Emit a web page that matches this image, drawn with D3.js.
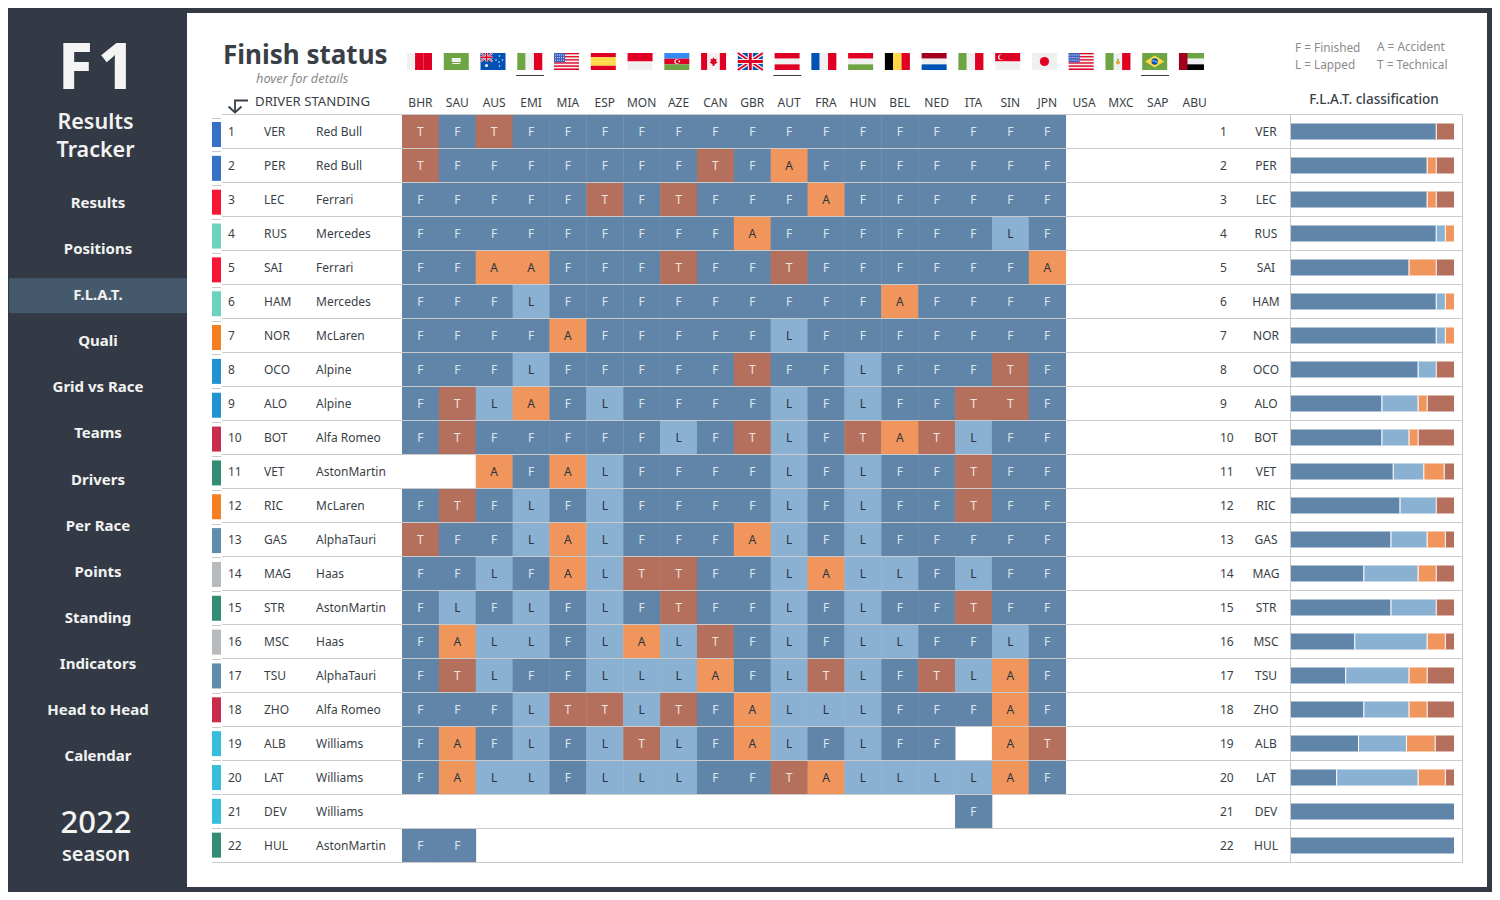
<!DOCTYPE html>
<html><head><meta charset="utf-8">
<script src="https://cdn.jsdelivr.net/npm/d3@7"></script>
<style>
html,body{margin:0;padding:0;background:#fff}
svg{display:block}
text{font-family:"Noto Sans","Open Sans",sans-serif}
</style></head><body>
<svg id="c" width="1500" height="900"></svg>
<script>
const races=["BHR","SAU","AUS","EMI","MIA","ESP","MON","AZE","CAN","GBR","AUT","FRA","HUN","BEL","NED","ITA","SIN","JPN","USA","MXC","SAP","ABU"];
const sprintRaces=["EMI","AUT","SAP"];
const drivers=["VER","PER","LEC","RUS","SAI","HAM","NOR","OCO","ALO","BOT","VET","RIC","GAS","MAG","STR","MSC","TSU","ZHO","ALB","LAT","DEV","HUL"];
const teams=["Red Bull","Red Bull","Ferrari","Mercedes","Ferrari","Mercedes","McLaren","Alpine","Alpine","Alfa Romeo","AstonMartin","McLaren","AlphaTauri","Haas","AstonMartin","Haas","AlphaTauri","Alfa Romeo","Williams","Williams","Williams","AstonMartin"];
// one letter per race, "-" = did not take part
const results=[
"TFTFFFFFFFFFFFFFFF",
"TFFFFFFFTFAFFFFFFF",
"FFFFFTFTFFFAFFFFFF",
"FFFFFFFFFAFFFFFFLF",
"FFAAFFFTFFTFFFFFFA",
"FFFLFFFFFFFFFAFFFF",
"FFFFAFFFFFLFFFFFFF",
"FFFLFFFFFTFFLFFFTF",
"FTLAFLFFFFLFLFFTTF",
"FTFFFFFLFTLFTATLFF",
"--AFALFFFFLFLFFTFF",
"FTFLFLFFFFLFLFFTFF",
"TFFLALFFFALFLFFFFF",
"FFLFALTTFFLALLFLFF",
"FLFLFLFTFFLFLFFTFF",
"FALLFLALTFLFLLFFLF",
"FTLFFLLLAFLTLFTLAF",
"FFFLTTLTFALLLFFFAF",
"FAFLFLTLFALFLFF-AT",
"FALLFLLLFFTALLLLAF",
"---------------F--",
"FF----------------"
];
const statuses=["F","L","A","T"];
const statusColors=["#6185a8","#8ab0d2","#f0965c","#b4705c"];
const statusText=["#dbe6ef","#2b3440","#2b3440","#f0e4dc"];
const teamNames=["Red Bull","Ferrari","Mercedes","McLaren","Alpine","Alfa Romeo","AstonMartin","AlphaTauri","Haas","Williams"];
const teamColors=["#3671c6","#f91536","#6cd3bf","#f58020","#2293d1","#c92d4b","#358c75","#5e8faa","#b6babd","#37bedd"];
const navItems=["Results","Positions","F.L.A.T.","Quali","Grid vs Race","Teams","Drivers","Per Race","Points","Standing","Indicators","Head to Head","Calendar"];
const activeNav="F.L.A.T.";
const legendLeft=["F = Finished","L = Lapped"];
const legendRight=["A = Accident","T = Technical"];

const INK="#3a3f47", DARK="#333a45", RULE="#cacaca";
const svg=d3.select("#c");

// frame
svg.append("rect").attr("x",8).attr("y",8).attr("width",1484).attr("height",884).attr("fill",DARK);
svg.append("rect").attr("x",187).attr("y",13).attr("width",1300).attr("height",874).attr("fill","#fff");

// sidebar
const side=svg.append("g").attr("text-anchor","middle");
side.append("text").attr("x",99).attr("y",89).attr("font-size",64).attr("font-weight",800).attr("letter-spacing",5).attr("fill","#f4f4f4").text("F1");
side.append("text").attr("x",95.5).attr("y",129).attr("font-size",21.5).attr("font-weight",600).attr("fill","#f2f2f2").text("Results");
side.append("text").attr("x",95.5).attr("y",157).attr("font-size",21.5).attr("font-weight",600).attr("fill","#f2f2f2").text("Tracker");
const navY=d3.scalePoint().domain(navItems).range([203,756]);
side.append("rect").attr("x",9).attr("y",navY(activeNav)-17).attr("width",178).attr("height",35).attr("fill","#44596b");
side.selectAll(".nav").data(navItems).join("text").attr("class","nav")
  .attr("x",98).attr("y",d=>navY(d)+5).attr("font-size",15).attr("font-weight",700).attr("fill","#f2f2f2").text(d=>d);
side.append("text").attr("x",96).attr("y",832.5).attr("font-size",31).attr("font-weight",500).attr("fill","#f4f4f4").text("2022");
side.append("text").attr("x",96).attr("y",861).attr("font-size",20).attr("font-weight",600).attr("fill","#f4f4f4").text("season");

// scales
const xCol=d3.scaleBand().domain(races).range([402,402+36.87*races.length]);
const xFlag=d3.scaleBand().domain(races).range([407,407+36.76*races.length]);
const yRow=d3.scaleBand().domain(drivers).range([114.5,862.5]);
const yChip=d3.scaleBand().domain(drivers).range([118,862.5]);
const color=d3.scaleOrdinal(statuses,statusColors);
const textCol=d3.scaleOrdinal(statuses,statusText);
const teamColor=d3.scaleOrdinal(teamNames,teamColors);
const rh=yRow.bandwidth();

// title
svg.append("text").attr("x",223).attr("y",64).attr("font-size",26).attr("font-weight",700).attr("fill",INK).text("Finish status");
svg.append("text").attr("x",256).attr("y",83).attr("font-size",12.8).attr("font-style","italic").attr("fill","#8a8a8a").text("hover for details");
svg.append("text").attr("x",255).attr("y",106).attr("font-size",13.2).attr("fill",INK).text("DRIVER STANDING");
svg.append("path").attr("d","M248 100.5H235V112M228.5 106.5L235 112.5L241.5 106.5").attr("fill","none").attr("stroke",INK).attr("stroke-width",1.8);

// legend
svg.append("g").attr("fill","#8b8b8b").attr("font-size",11.8).call(g=>{
  g.selectAll(".ll").data(legendLeft).join("text").attr("x",1295).attr("y",(d,i)=>52+i*17).text(d=>d);
  g.selectAll(".lr").data(legendRight).join("text").attr("x",1377).attr("y",(d,i)=>51+i*17.5).text(d=>d);
});

// flags
const R="#df0024",W="#f0f0f0",B="#0052b4",G="#6da544",K="#000",Y="#ffda44",M="#a2001d",LB="#338af3";
function stripes(g,dir,cols){
  const s=d3.scaleBand().domain(d3.range(cols.length)).range([0,dir=="h"?17:25]);
  g.selectAll(".s").data(cols).join("rect").attr("fill",d=>d)
   .attr(dir=="h"?"y":"x",(d,i)=>s(i)).attr(dir=="h"?"height":"width",s.bandwidth())
   .attr(dir=="h"?"x":"y",0).attr(dir=="h"?"width":"height",dir=="h"?25:17);
}
function ukMini(g,w,h){
  g.append("rect").attr("width",w).attr("height",h).attr("fill",B);
  g.append("path").attr("d",`M0 0L${w} ${h}M${w} 0L0 ${h}`).attr("stroke",W).attr("stroke-width",h/4);
  g.append("path").attr("d",`M0 0L${w} ${h}M${w} 0L0 ${h}`).attr("stroke",R).attr("stroke-width",h/10);
  g.append("path").attr("d",`M${w/2} 0V${h}M0 ${h/2}H${w}`).attr("stroke",W).attr("stroke-width",h/3.4);
  g.append("path").attr("d",`M${w/2} 0V${h}M0 ${h/2}H${w}`).attr("stroke",R).attr("stroke-width",h/6);
}
function usa(g){
  stripes(g,"h",[R,W,R,W,R,W,R,W,R,W,R]);
  g.append("rect").attr("width",11).attr("height",9.3).attr("fill","#3f5fc0");
  g.append("path").attr("d","M1 2H10M1 4.6H10M1 7.2H10").attr("stroke","#dfe6f5").attr("stroke-width",1).attr("stroke-dasharray","1 1");
}
const flagDraw={
 BHR:g=>{stripes(g,"v",[W,R,R]);g.selectAll("rect").filter((d,i)=>i==0).attr("width",9);
   g.append("path").attr("d","M8 0L10 1.4L8 2.8L10 4.2L8 5.6L10 7L8 8.4L10 9.8L8 11.2L10 12.6L8 14L10 15.4L8 17Z").attr("fill",R);},
 SAU:g=>{stripes(g,"v",[G]);g.append("rect").attr("x",8).attr("y",5).attr("width",9).attr("height",4).attr("fill",W);g.append("rect").attr("x",8.5).attr("y",10).attr("width",8).attr("height",1).attr("fill",W);},
 AUS:g=>{stripes(g,"v",[B]);ukMini(g.append("g"),12,8.5);
   g.append("circle").attr("cx",6).attr("cy",12.5).attr("r",1.6).attr("fill",W);
   g.selectAll(".st").data([[19,3],[15.5,7],[22,7],[19,13],[18.5,9]]).join("circle").attr("cx",d=>d[0]).attr("cy",d=>d[1]).attr("r",.8).attr("fill",W);},
 EMI:g=>stripes(g,"v",[G,W,R]),
 MIA:usa,
 ESP:g=>stripes(g,"h",[R,Y,Y,R]),
 MON:g=>stripes(g,"h",[R,W]),
 AZE:g=>{stripes(g,"h",[LB,R,G]);g.append("circle").attr("cx",12.5).attr("cy",8.5).attr("r",2.5).attr("fill",W);g.append("circle").attr("cx",13.3).attr("cy",8.5).attr("r",2).attr("fill",R);g.append("rect").attr("x",14.2).attr("y",7.6).attr("width",1.6).attr("height",1.6).attr("fill",W);},
 CAN:g=>{stripes(g,"v",[R,W,W,R]);g.append("path").attr("d","M12.5 4L13.6 6.2L15.6 5.8L15 8.4L16.6 9.2L13.4 11.4V13H11.6V11.4L8.4 9.2L10 8.4L9.4 5.8L11.4 6.2Z").attr("fill",R);},
 GBR:g=>ukMini(g,25,17),
 AUT:g=>stripes(g,"h",[R,W,R]),
 FRA:g=>stripes(g,"v",[B,W,R]),
 HUN:g=>stripes(g,"h",[R,W,G]),
 BEL:g=>stripes(g,"v",[K,Y,R]),
 NED:g=>stripes(g,"h",[M,W,B]),
 ITA:g=>stripes(g,"v",[G,W,R]),
 SIN:g=>{stripes(g,"h",[R,W]);g.append("circle").attr("cx",5.5).attr("cy",4.2).attr("r",2.6).attr("fill",W);g.append("circle").attr("cx",6.6).attr("cy",4.2).attr("r",2.4).attr("fill",R);},
 JPN:g=>{stripes(g,"v",[W]);g.append("circle").attr("cx",12.5).attr("cy",8.5).attr("r",4.6).attr("fill",R);},
 USA:usa,
 MXC:g=>{stripes(g,"v",[G,W,R]);g.append("circle").attr("cx",12.5).attr("cy",9.5).attr("r",2).attr("fill","#e8a030");g.append("circle").attr("cx",12.5).attr("cy",6.8).attr("r",1).attr("fill",G);},
 SAP:g=>{stripes(g,"v",[G]);g.append("path").attr("d","M12.5 2.5L22 8.5L12.5 14.5L3 8.5Z").attr("fill",Y);g.append("circle").attr("cx",12.5).attr("cy",8.5).attr("r",3.2).attr("fill",B);g.append("path").attr("d","M9.5 8Q12.5 7 15.5 9.5").attr("stroke",W).attr("fill","none").attr("stroke-width",.8);},
 ABU:g=>{stripes(g,"h",[G,W,K]);g.append("rect").attr("width",8.5).attr("height",17).attr("fill",M);}
};
const flags=svg.selectAll(".flag").data(races).join("g").attr("class","flag")
  .attr("transform",d=>`translate(${xFlag(d)},53)`);
flags.each(function(d){flagDraw[d](d3.select(this));});
svg.selectAll(".flagline").data(sprintRaces).join("rect").attr("class","flagline")
  .attr("x",d=>xFlag(d)-1.2).attr("y",75).attr("width",28).attr("height",1).attr("fill",INK);

// column header axis
const axisG=svg.append("g").attr("transform","translate(0,107)")
  .call(d3.axisTop(xCol).tickSize(0).tickPadding(0));
axisG.select(".domain").remove();
axisG.selectAll("text").attr("font-size",12).attr("fill",INK).style("font-family",'"Noto Sans"');

// cells
const cells=results.flatMap((r,i)=>r.split("").map((s,j)=>({d:drivers[i],r:races[j],s})).filter(c=>c.s!="-"));
svg.selectAll(".cell").data(cells).join("rect").attr("class","cell")
  .attr("x",c=>xCol(c.r)).attr("y",c=>yRow(c.d)).attr("width",xCol.bandwidth()+.4).attr("height",rh).attr("fill",c=>color(c.s));
svg.selectAll(".cellt").data(cells).join("text").attr("class","cellt")
  .attr("x",c=>xCol(c.r)+xCol.bandwidth()/2).attr("y",c=>yRow(c.d)+rh/2+4.2).attr("text-anchor","middle")
  .attr("font-size",12).attr("fill",c=>textCol(c.s)).text(c=>c.s);

// rules
svg.selectAll(".rule").data(d3.range(drivers.length+1)).join("line").attr("class","rule")
  .attr("x1",222).attr("x2",1462.5).attr("y1",i=>114.5+i*rh).attr("y2",i=>114.5+i*rh).attr("stroke",RULE);
[1290.5,1462.5].forEach(x=>svg.append("line").attr("x1",x).attr("x2",x).attr("y1",114.5).attr("y2",862.5).attr("stroke",RULE));

// chips
svg.selectAll(".chip").data(drivers).join("rect").attr("class","chip")
  .attr("x",212).attr("y",d=>yChip(d)+4).attr("width",9).attr("height",25).attr("fill",(d,i)=>teamColor(teams[i]));
svg.selectAll(".chipl").data(drivers).join("line").attr("class","chipl")
  .attr("x1",212).attr("x2",221).attr("y1",d=>Math.floor(yChip(d))+.5).attr("y2",d=>Math.floor(yChip(d))+.5).attr("stroke",RULE);
svg.append("line").attr("x1",212).attr("x2",222).attr("y1",862.5).attr("y2",862.5).attr("stroke",RULE);

// row labels
const labels=svg.append("g").attr("font-size",12).attr("fill",INK);
const ty=d=>yRow(d)+rh/2+4.3;
labels.selectAll(".rk").data(drivers).join("text").attr("x",228).attr("y",ty).text((d,i)=>i+1);
labels.selectAll(".cd").data(drivers).join("text").attr("x",264).attr("y",ty).text(d=>d);
labels.selectAll(".tm").data(drivers).join("text").attr("x",316).attr("y",ty).text((d,i)=>teams[i]);
labels.selectAll(".rk2").data(drivers).join("text").attr("x",1220).attr("y",ty).text((d,i)=>i+1);
labels.selectAll(".cd2").data(drivers).join("text").attr("x",1266).attr("y",ty).attr("text-anchor","middle").text(d=>d);

// classification bars
svg.append("text").attr("x",1374).attr("y",104).attr("text-anchor","middle").attr("font-size",13.5).attr("font-weight",500).attr("fill",INK).text("F.L.A.T. classification");
drivers.forEach((d,i)=>{
  const s=results[i].replace(/-/g,"");
  const counts=statuses.map(k=>s.split("").filter(c=>c==k).length);
  const x=d3.scaleLinear().domain([0,s.length]).range([1291,1454]);
  const cum=d3.cumsum(counts);
  svg.selectAll(".bar"+i).data(counts).join("rect").attr("class","bar"+i)
    .attr("x",(c,k)=>x(cum[k]-c)).attr("width",c=>x(c)-x(0))
    .attr("y",yRow(d)+rh/2-8).attr("height",16).attr("fill",(c,k)=>statusColors[k]);
  svg.selectAll(".gap"+i).data(counts.map((c,k)=>cum[k]).filter((c,k)=>counts[k]>0&&c<s.length)).join("line").attr("class","gap"+i)
    .attr("x1",c=>x(c)+.4).attr("x2",c=>x(c)+.4).attr("y1",yRow(d)+rh/2-8).attr("y2",yRow(d)+rh/2+8).attr("stroke","#fff").attr("stroke-width",1);
});
</script></body></html>
